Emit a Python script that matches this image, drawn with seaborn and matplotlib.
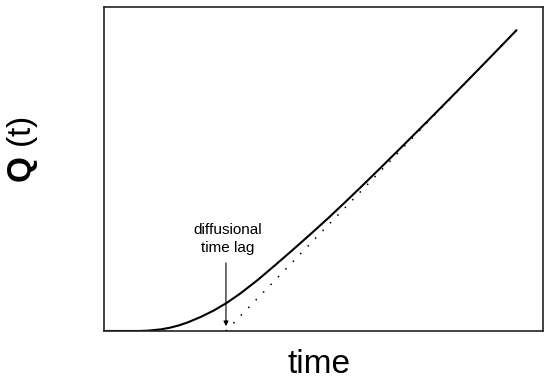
import numpy as np
import pandas as pd
import matplotlib
matplotlib.use('Agg')
import matplotlib.pyplot as plt
import seaborn as sb

# values (arbitrary units, axes 0-10)
time_curve = [0.0, 0.8, 1.0, 1.3, 1.5, 1.7, 1.9, 2.2, 2.5, 2.8, 3.1, 3.5, 3.9,
              4.3, 4.7, 5.1, 5.5, 5.9, 6.3, 6.8, 7.4, 8.1, 8.8, 9.4]
q_curve = [0.0, 0.0, 0.01, 0.05, 0.10, 0.17, 0.26, 0.43, 0.63, 0.87, 1.15, 1.57, 2.03,
           2.50, 2.98, 3.47, 3.98, 4.50, 5.03, 5.70, 6.51, 7.47, 8.44, 9.28]

# steady state asymptote, crosses the time axis at the lag time
time_asym = [2.78, 9.4]
q_asym = [0.0, 9.28]
lag_time = time_asym[0]

sb.set_style('white')
plt.rcParams['font.family'] = ['Liberation Sans', 'DejaVu Sans']
plt.rcParams['mathtext.fontset'] = 'custom'
plt.rcParams['mathtext.bf'] = 'Liberation Sans:bold'
plt.rcParams['mathtext.rm'] = 'Liberation Sans'
plt.rcParams['text.color'] = 'black'
plt.rcParams['axes.labelcolor'] = 'black'

fig = plt.figure(figsize=(5.5, 3.8), dpi=100)
ax = fig.add_axes([0.189, 0.129, 0.798, 0.853])

curve = pd.DataFrame({'time': time_curve, 'Q': q_curve})
asym = pd.DataFrame({'time': time_asym, 'Q': q_asym})

sb.lineplot(data=asym, x='time', y='Q', color='black', lw=1.1,
            linestyle=(0, (1, 6)), ax=ax)
sb.lineplot(data=curve, x='time', y='Q', color='black', lw=1.5, ax=ax)

ax.annotate('', xy=(lag_time, 0.15), xytext=(lag_time, 2.1),
            arrowprops=dict(arrowstyle='-|>', color='black', lw=0.8,
                            mutation_scale=7, shrinkA=0, shrinkB=0))
ax.text(lag_time + 0.04, 2.84, 'diffusional\ntime lag', ha='center', va='center',
        fontsize=11, linespacing=1.3)

ax.set_xlim(0, 10)
ax.set_ylim(0, 10)
ax.set_xticks([])
ax.set_yticks([])
for sp in ax.spines.values():
    sp.set_visible(True)
    sp.set_color('#222222')
    sp.set_linewidth(1.2)

ax.set_xlabel('time', fontsize=24)
ax.xaxis.set_label_coords(0.49, -0.055)
ax.set_ylabel(r'$\mathbf{Q}$ (t)', fontsize=24)
ax.yaxis.set_label_coords(-0.146, 0.56)

plt.savefig('out.png', dpi=100)
